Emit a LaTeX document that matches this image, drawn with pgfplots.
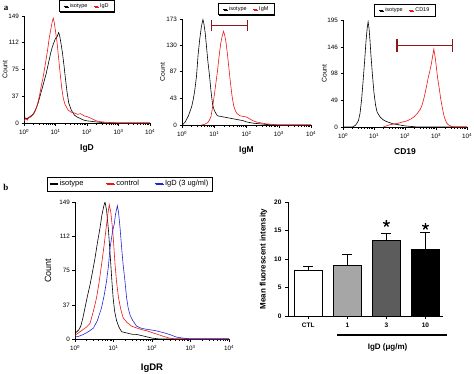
\documentclass[border=0pt]{standalone}
\usepackage{fontspec}
\setmainfont{Liberation Sans}
\newfontfamily\serifbold{Liberation Serif}
\usepackage{pgfplots}
\pgfplotsset{compat=1.18}
\usetikzlibrary{shadows}
\definecolor{myred}{RGB}{240,20,20}
\definecolor{myblue}{RGB}{35,35,215}
\definecolor{gatered}{RGB}{140,25,25}
\definecolor{lgray}{RGB}{166,166,166}
\definecolor{dgray}{RGB}{92,92,92}
\pgfplotsset{
 hist/.style={scale only axis, axis x line*=bottom, axis y line*=left,
  axis line style={-,line width=0.7pt}, xmin=0, xmax=4, ymin=0,
  xtick={0,1,2,3,4},
  xticklabels={10\textsuperscript{0},10\textsuperscript{1},10\textsuperscript{2},10\textsuperscript{3},10\textsuperscript{4}},
  minor xtick={0.301,0.477,0.602,0.699,0.778,0.845,0.903,0.954,
   1.301,1.477,1.602,1.699,1.778,1.845,1.903,1.954,
   2.301,2.477,2.602,2.699,2.778,2.845,2.903,2.954,
   3.301,3.477,3.602,3.699,3.778,3.845,3.903,3.954},
  tick align=outside, major tick length=2.5pt, minor tick length=1.5pt,
  tick style={black,line width=0.5pt},
  ticklabel style={font=\fontsize{6.3}{7}\selectfont},
  yticklabel style={xshift=1pt},
  /pgf/number format/assume math mode=true,
  ylabel=Count,
  every axis y label/.style={at={(axis description cs:-0.15,0.5)}, rotate=90, anchor=center, font=\fontsize{6.8}{7}\selectfont},
  every axis x label/.style={at={(axis description cs:0.5,0)}, anchor=center, yshift=-25pt, font=\fontsize{8.5}{9}\bfseries\selectfont},
  legend style={draw=black, line width=0.5pt, fill=white,
   font=\fontsize{5.5}{6}\selectfont, legend columns=-1,
   at={(0.5,1)}, anchor=south, yshift=4pt, inner ysep=1pt, inner xsep=4pt,
   drop shadow={shadow xshift=0.8pt, shadow yshift=-0.8pt, fill=black, opacity=1},
   /tikz/every even column/.append style={column sep=4pt}},
  legend image code/.code={\draw[##1,line width=0.6pt] (0pt,0pt) -- (4pt,0pt);},
 },
 hl/.style={no marks, sharp plot, line width=0.6pt},
 barp/.style={ybar, bar shift=0pt, bar width=28pt, draw=black, line width=1pt,
  error bars/.cd, y dir=plus, y explicit,
  error bar style={line width=1pt, black},
  error mark options={rotate=90, mark size=5pt, line width=1pt, black}},
}
\begin{document}
\begin{tikzpicture}
\useasboundingbox (0,0) rectangle (474pt,373pt);
\node[font=\serifbold\bfseries\fontsize{9}{10}\selectfont] at (6pt,365pt) {a};
\node[font=\serifbold\bfseries\fontsize{9}{10}\selectfont] at (6pt,186pt) {b};

% ---- a1: IgD
\begin{axis}[hist, at={(24pt,250pt)}, anchor=south west, width=126pt, height=107pt,
  ymax=149, ytick={0,37,75,112,149}, xlabel={IgD}]
\addplot[hl, black] coordinates {(0,4)(0.05,7)(0.1,6)(0.15,8)(0.2,9)(0.25,11)(0.3,13)(0.35,17)(0.4,22)(0.45,28)(0.5,36)(0.55,44)(0.6,52)(0.65,60)(0.7,68)(0.75,78)(0.8,88)(0.85,98)(0.9,106)(0.95,112)(1.0,118)(1.05,120)(1.1,126)(1.13,122)(1.17,112)(1.22,98)(1.27,80)(1.32,60)(1.37,42)(1.42,28)(1.5,18)(1.6,11)(1.7,8)(1.8,6)(1.9,4)(2.0,3)(2.2,2)(2.4,1)(2.6,0)(4,0)};
\addplot[hl, myred] coordinates {(0,3)(0.05,6)(0.1,4)(0.15,7)(0.2,8)(0.25,10)(0.3,12)(0.35,16)(0.4,22)(0.45,30)(0.5,40)(0.55,52)(0.6,62)(0.65,75)(0.7,88)(0.75,102)(0.8,118)(0.85,130)(0.9,142)(0.93,146)(0.96,140)(1.0,128)(1.05,112)(1.1,90)(1.15,68)(1.2,48)(1.25,34)(1.3,26)(1.35,22)(1.4,18)(1.5,15)(1.6,14)(1.7,12)(1.8,13)(1.9,10)(2.0,9)(2.1,7)(2.2,5)(2.3,3)(2.4,2)(2.6,1)(2.8,0.5)(3.0,0)(4,0)};
\legend{isotype, IgD}
\end{axis}

% ---- a2: IgM
\begin{axis}[hist, at={(182pt,248pt)}, anchor=south west, width=129pt, height=106pt,
  ymax=173, ytick={0,43,87,130,173}, xlabel={IgM}]
\addplot[hl, black] coordinates {(0,0)(0.03,1)(0.1,5)(0.2,15)(0.3,30)(0.35,42)(0.4,58)(0.45,80)(0.5,115)(0.55,140)(0.6,160)(0.63,168)(0.65,172)(0.68,165)(0.72,150)(0.76,128)(0.8,105)(0.85,82)(0.9,55)(0.95,33)(1.0,24)(1.05,19)(1.1,15)(1.2,14)(1.3,13)(1.4,12)(1.5,11)(1.6,10)(1.7,9)(1.8,8)(1.9,7)(2.0,5)(2.1,4)(2.2,3)(2.4,2)(2.6,1)(2.8,0)(4,0)};
\addplot[hl, myred] coordinates {(0.6,0)(0.7,1)(0.8,4)(0.85,8)(0.9,14)(0.95,30)(1.0,48)(1.05,68)(1.1,88)(1.15,112)(1.2,133)(1.25,146)(1.29,153)(1.33,145)(1.37,133)(1.41,115)(1.45,95)(1.5,70)(1.55,48)(1.6,32)(1.65,24)(1.7,19)(1.8,15)(1.9,14)(2.0,13)(2.1,10)(2.2,7)(2.3,5)(2.4,4)(2.6,2)(2.8,1)(3.0,0)(4,0)};
\legend{isotype, IgM}
\addplot[gatered, line width=1.2pt, forget plot] coordinates {(0.91,163)(2.02,163)};
\addplot[gatered, line width=1.2pt, forget plot] coordinates {(0.91,154)(0.91,172)};
\addplot[gatered, line width=1.2pt, forget plot] coordinates {(2.02,154)(2.02,172)};
\end{axis}

% ---- a3: CD19
\begin{axis}[hist, at={(343pt,246pt)}, anchor=south west, width=124pt, height=107pt,
  ymax=195, ytick={0,49,98,146,195}, xlabel={CD19}]
\addplot[hl, black] coordinates {(0,0)(0.3,0)(0.4,3)(0.45,7)(0.5,12)(0.55,25)(0.6,50)(0.65,85)(0.7,122)(0.74,155)(0.78,180)(0.81,192)(0.84,180)(0.87,158)(0.9,132)(0.95,95)(1.0,62)(1.05,40)(1.1,27)(1.2,18)(1.3,13)(1.4,10)(1.5,8)(1.6,6)(1.7,5)(1.8,4)(1.9,3)(2.0,2)(2.2,1)(2.4,0)(4,0)};
\addplot[hl, myred] coordinates {(1.3,0)(1.4,2)(1.5,4)(1.6,5)(1.7,6)(1.8,7)(1.9,9)(2.0,10)(2.1,12)(2.2,15)(2.3,19)(2.4,25)(2.5,33)(2.55,40)(2.6,50)(2.65,62)(2.7,76)(2.75,90)(2.8,102)(2.85,115)(2.9,132)(2.93,142)(2.97,128)(3.0,115)(3.05,90)(3.1,72)(3.15,52)(3.2,36)(3.25,22)(3.3,13)(3.35,7)(3.4,4)(3.5,1)(3.6,0)(4,0)};
\legend{isotype, CD19}
\addplot[gatered, line width=1.2pt, forget plot] coordinates {(1.74,148)(3.53,148)};
\addplot[gatered, line width=1.2pt, forget plot] coordinates {(1.74,136)(1.74,160)};
\addplot[gatered, line width=1.2pt, forget plot] coordinates {(3.53,136)(3.53,160)};
\end{axis}

% ---- b1: IgDR
\begin{axis}[hist, at={(75pt,34pt)}, anchor=south west, width=154pt, height=137pt,
  ymax=149, ytick={0,37,75,112,149}, xlabel={IgDR},
  every axis y label/.style={at={(axis description cs:-0.175,0.5)}, rotate=90, anchor=center, font=\fontsize{9}{10}\selectfont},
  every axis x label/.style={at={(axis description cs:0.5,0)}, anchor=center, yshift=-29pt, font=\fontsize{9.5}{10}\bfseries\selectfont},
  legend style={font=\fontsize{7.5}{8}\selectfont, at={(-0.182,1)}, anchor=south west, yshift=7pt,
   inner xsep=2pt, inner ysep=1.5pt,
   /tikz/every even column/.append style={column sep=0pt}},
  legend image code/.code={\draw[#1,line width=0.6pt] (0pt,0pt) -- (8pt,0pt);}]
\addplot[hl, black] coordinates {(0,6)(0.05,8)(0.1,10)(0.15,14)(0.2,22)(0.26,34)(0.32,46)(0.39,59)(0.45,72)(0.52,88)(0.58,104)(0.65,121)(0.7,135)(0.75,145)(0.78,149)(0.82,140)(0.87,118)(0.9,100)(0.93,81)(0.96,62)(0.99,45)(1.03,30)(1.08,20)(1.14,13)(1.21,8)(1.3,7)(1.4,6)(1.5,5)(1.6,5)(1.7,4)(1.8,3)(1.9,2)(2.0,1)(2.2,0)(4,0)};
\addplot[hl, myred] coordinates {(0,4)(0.1,7)(0.2,10)(0.3,13)(0.39,17)(0.45,26)(0.5,34)(0.56,45)(0.62,60)(0.69,81)(0.75,100)(0.81,121)(0.85,135)(0.89,146)(0.93,138)(0.98,118)(1.01,100)(1.04,81)(1.08,62)(1.13,45)(1.19,32)(1.25,23)(1.35,18)(1.47,14)(1.6,12)(1.75,10)(1.86,9)(2.0,7)(2.15,5)(2.29,3)(2.45,1)(2.6,0)(4,0)};
\addplot[hl, myblue] coordinates {(0,2)(0.1,3)(0.22,5)(0.35,8)(0.48,12)(0.58,20)(0.69,34)(0.76,48)(0.82,63)(0.87,80)(0.91,99)(0.95,110)(0.98,118)(1.02,125)(1.05,135)(1.1,145)(1.13,138)(1.17,121)(1.21,100)(1.25,81)(1.3,62)(1.34,45)(1.38,34)(1.43,26)(1.5,20)(1.6,14)(1.7,12)(1.8,11)(1.95,10)(2.1,9)(2.29,7)(2.45,5)(2.64,2)(2.8,1)(3.0,0)(4,0)};
\legend{\makebox[44pt][l]{isotype}, \makebox[36pt][l]{control}, IgD (3 ug/ml)}
\end{axis}

% ---- b2: bar chart
\begin{axis}[scale only axis, at={(288pt,57pt)}, anchor=south west, width=155pt, height=114pt,
  axis x line*=bottom, axis y line*=left, axis line style={-,line width=1pt},
  xmin=-0.52, xmax=3.45, ymin=0, ymax=20, ytick={0,5,10,15,20},
  xtick={0,1,2,3}, xticklabels={CTL,1,3,10},
  tick align=outside, major tick length=3pt, tick style={black,line width=1pt},
  ticklabel style={font=\fontsize{6.5}{7}\bfseries\selectfont},
  /pgf/number format/assume math mode=true,
  ylabel={Mean fluorescent intensity},
  ylabel style={font=\fontsize{8}{9}\bfseries\selectfont},
  clip=false]
\addplot[fill=white, barp] coordinates {(0,8.0) +- (0,0.7)};
\addplot[fill=lgray, barp] coordinates {(1,8.9) +- (0,1.9)};
\addplot[fill=dgray, barp] coordinates {(2,13.3) +- (0,1.1)};
\addplot[fill=black, barp] coordinates {(3,11.7) +- (0,2.9)};
\addplot[only marks, mark=star, mark size=3.5pt, line width=1.3pt, black] coordinates {(2,16.2)(3,15.7)};
\draw[line width=1.2pt] (axis cs:0.74,-3.33) -- (axis cs:3.56,-3.33);
\node[font=\fontsize{8}{9}\bfseries\selectfont] at (axis cs:2.03,-5.6) {IgD (μg/m)};
\end{axis}
\end{tikzpicture}
\end{document}
